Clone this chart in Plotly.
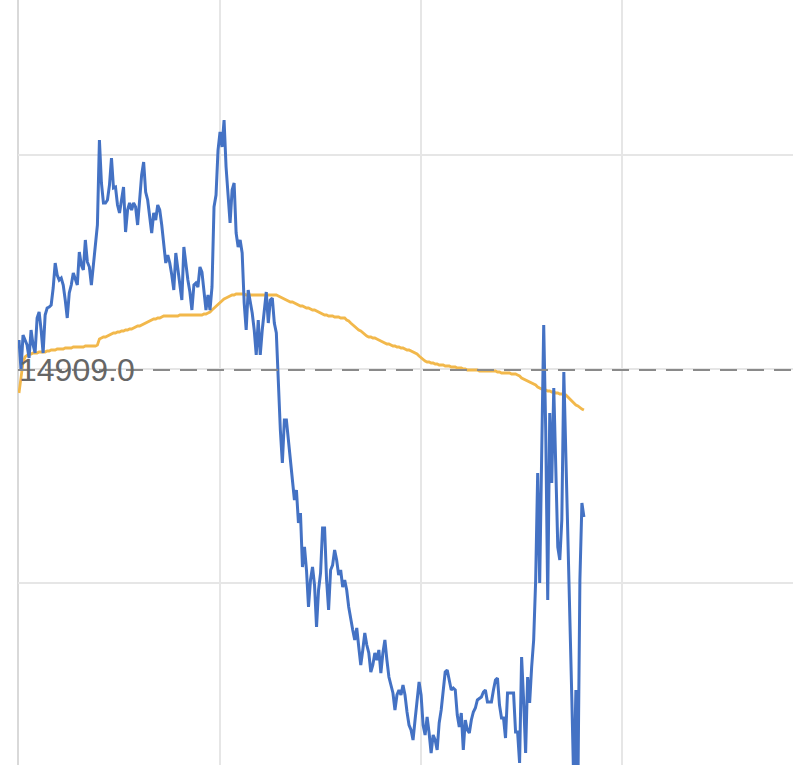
import plotly.graph_objects as go

# Price series (blue)
price = [
    14939, 14909, 14944, 14939, 14934, 14921, 14949, 14934, 14926, 14961,
    14967, 14949, 14926, 14964, 14971, 14972, 14974, 14991, 15016, 15004,
    14999, 15001, 14994, 14979, 14961, 14986, 14994, 15006, 14999, 14994,
    15027, 15014, 15009, 15039, 15017, 15012, 14994, 15016, 15039, 15054,
    15139, 15096, 15076, 15076, 15079, 15094, 15121, 15091, 15092, 15074,
    15066, 15082, 15092, 15047, 15069, 15076, 15069, 15076, 15072, 15054,
    15079, 15104, 15117, 15087, 15079, 15064, 15046, 15066, 15059, 15074,
    15069, 15054, 15036, 15016, 15024, 15016, 15004, 14989, 15026, 15009,
    14994, 14979, 15032, 15014, 14999, 14987, 14969, 14994, 14996, 14992,
    15012, 15007, 14984, 14969, 14984, 14969, 14992, 15072, 15084, 15129,
    15147, 15132, 15159, 15112, 15084, 15056, 15089, 15096, 15046, 15032,
    15039, 15026, 14976, 14949, 14989, 14979, 14966, 14949, 14924, 14959,
    14924, 14949, 14972, 14987, 14956, 14979, 14981, 14956, 14946, 14894,
    14849, 14816, 14859, 14859, 14839, 14816, 14801, 14779, 14789, 14756,
    14766, 14712, 14732, 14709, 14672, 14699, 14712, 14694, 14652, 14689,
    14706, 14751, 14751, 14699, 14669, 14709, 14714, 14729, 14719, 14704,
    14709, 14692, 14699, 14689, 14672, 14659, 14649, 14639, 14651, 14632,
    14614, 14629, 14646, 14634, 14626, 14607, 14614, 14626, 14619, 14629,
    14606, 14626, 14639, 14619, 14602, 14594, 14586, 14569, 14584, 14589,
    14584, 14594, 14584, 14567, 14554, 14549, 14539, 14559, 14579, 14597,
    14584, 14554, 14544, 14562, 14546, 14526, 14544, 14539, 14529, 14556,
    14569, 14589, 14607, 14609, 14599, 14589, 14591, 14589, 14564, 14552,
    14566, 14529, 14559, 14549, 14546, 14559, 14567, 14571, 14579, 14581,
    14582, 14587, 14589, 14577, 14577, 14577, 14589, 14599, 14601, 14574,
    14561, 14561, 14541, 14586, 14586, 14586, 14586, 14547, 14547, 14516,
    14622, 14579, 14526, 14602, 14576, 14612, 14639, 14699, 14806, 14696,
    14806, 14954, 14849, 14679, 14866, 14796, 14891, 14812, 14732, 14719,
    14759, 14907, 14829, 14749, 14679, 14579, 14489, 14589, 14489, 14699,
    14776, 14762,
]

# Moving average (yellow)
avg = [
    14886, 14904, 14917, 14922, 14924, 14925, 14925, 14926, 14926, 14926,
    14927, 14927, 14927, 14927, 14928, 14928, 14929, 14929, 14929, 14930,
    14930, 14930, 14930, 14931, 14931, 14931, 14931, 14932, 14932, 14932,
    14932, 14932, 14932, 14933, 14933, 14933, 14933, 14933, 14933, 14934,
    14940, 14941, 14942, 14942, 14943, 14944, 14945, 14946, 14946, 14947,
    14947, 14948, 14948, 14949, 14949, 14950, 14950, 14951, 14952, 14953,
    14953, 14954, 14955, 14956, 14957, 14958, 14959, 14960, 14960, 14961,
    14961, 14962, 14963, 14963, 14963, 14963, 14963, 14963, 14963, 14963,
    14964, 14964, 14964, 14964, 14964, 14964, 14964, 14964, 14964, 14964,
    14964, 14964, 14965, 14965, 14966, 14967, 14969, 14971, 14973, 14974,
    14976, 14978, 14980, 14981, 14982, 14983, 14984, 14984, 14985, 14985,
    14985, 14985, 14985, 14984, 14984, 14984, 14984, 14984, 14984, 14984,
    14984, 14984, 14984, 14984, 14984, 14984, 14984, 14984, 14984, 14983,
    14982, 14981, 14980, 14979, 14978, 14977, 14977, 14976, 14975, 14974,
    14973, 14973, 14972, 14971, 14971, 14970, 14969, 14969, 14968, 14967,
    14966, 14965, 14964, 14964, 14963, 14963, 14963, 14962, 14962, 14962,
    14961, 14961, 14961, 14959, 14958, 14956, 14954, 14952, 14951, 14949,
    14948, 14946, 14944, 14943, 14942, 14942, 14941, 14941, 14940, 14939,
    14938, 14937, 14936, 14935, 14935, 14934, 14933, 14933, 14932, 14932,
    14931, 14931, 14930, 14929, 14929, 14928, 14927, 14926, 14925, 14923,
    14921, 14919, 14918, 14917, 14917, 14916, 14916, 14915, 14915, 14914,
    14914, 14914, 14913, 14913, 14913, 14912, 14912, 14912, 14911, 14911,
    14911, 14910, 14910, 14909, 14909, 14909, 14909, 14909, 14909, 14908,
    14908, 14908, 14908, 14908, 14908, 14908, 14908, 14908, 14907, 14907,
    14906, 14906, 14906, 14906, 14906, 14905, 14905, 14905, 14904, 14903,
    14901, 14900, 14899, 14898, 14897, 14896, 14895, 14894, 14892, 14891,
    14890, 14890, 14889, 14888, 14888, 14887, 14887, 14886, 14886, 14885,
    14885, 14884, 14884, 14882, 14880, 14877, 14875, 14874, 14873, 14871,
    14870, 14869,
]

ref_level = 14909.0
ref_label = "14909.0"
x_grid = [100, 200, 300]
y_grid = [14696, 14910, 15124]
x_range = [-0.5, 385]
y_range = [14514, 15279]

idx = list(range(len(price)))

fig = go.Figure()
fig.add_trace(go.Scatter(x=idx, y=avg, mode="lines",
                         line=dict(color="#F2B84B", width=2.8), hoverinfo="skip"))
fig.add_trace(go.Scatter(x=idx, y=price, mode="lines",
                         line=dict(color="#4472C4", width=3)))

fig.add_shape(type="line", xref="paper", x0=0, x1=1, y0=ref_level, y1=ref_level,
              line=dict(color="#8a8a8a", width=2, dash="17px,10px"), layer="above")
fig.add_annotation(xref="paper", x=0, y=ref_level, text=ref_label, showarrow=False,
                   xanchor="left", yanchor="middle", xshift=-1,
                   font=dict(family="Liberation Sans, Arial, sans-serif", size=32, color="#666666"))

fig.update_layout(
    width=793, height=765,
    margin=dict(l=18, r=0, t=0, b=0),
    paper_bgcolor="white", plot_bgcolor="white",
    showlegend=False,
)
fig.update_xaxes(range=x_range, tickvals=x_grid, showticklabels=False, ticks="",
                 showgrid=True, gridcolor="#e6e6e6", gridwidth=1.5, zeroline=False,
                 showline=False)
fig.update_yaxes(range=y_range, tickvals=y_grid, showticklabels=False, ticks="",
                 showgrid=True, gridcolor="#e6e6e6", gridwidth=1.5, zeroline=False,
                 showline=False)
# left axis line
fig.add_shape(type="line", xref="paper", yref="paper", x0=0, x1=0, y0=0, y1=1,
              line=dict(color="#cccccc", width=1.5), layer="below")

fig.write_html("out.html", config={"displayModeBar": False},
               post_script="document.body.style.margin='0';document.body.style.overflow='hidden';")
